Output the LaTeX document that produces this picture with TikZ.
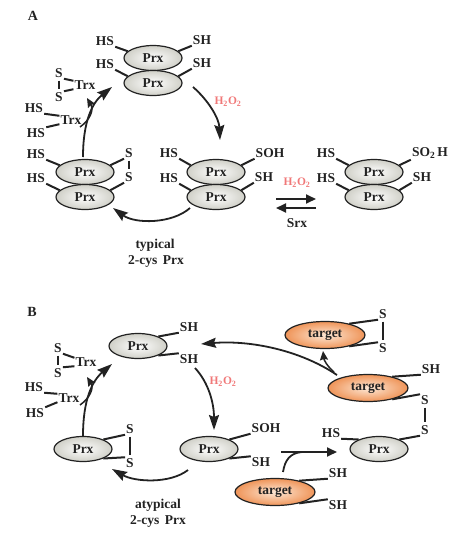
\documentclass[tikz,border=0pt]{standalone}
\usepackage{fontspec}
\setmainfont{Liberation Serif}
\usetikzlibrary{shapes.geometric,arrows.meta}
\definecolor{prxout}{HTML}{D0D0C8}
\definecolor{tgtin}{HTML}{FDE8D6}
\definecolor{tgtout}{HTML}{EF9458}
\definecolor{hcol}{HTML}{F07878}
\definecolor{ink}{HTML}{222222}
\begin{document}
\begin{tikzpicture}[x=1pt,y=-1pt,
 base/.style={font=\fontsize{13.5}{15}\selectfont\bfseries, text=ink},
 prx/.style={base, ellipse, draw=ink, line width=1.2pt, minimum width=58pt, minimum height=25pt, inner sep=0pt, inner color=white, outer color=prxout},
 tgt/.style={base, ellipse, draw=ink, line width=1.2pt, minimum width=80pt, minimum height=27pt, inner sep=0pt, inner color=tgtin, outer color=tgtout},
 lbl/.style={base, inner sep=1pt},
 hh/.style={font=\fontsize{11.5}{12}\selectfont\bfseries, text=hcol, inner sep=1pt},
 bond/.style={line width=2pt, ink},
 ssbar/.style={line width=1.6pt, ink, shorten <=2pt, shorten >=2pt},
 arr/.style={line width=1.8pt, ink, -{Stealth[length=15pt,width=10pt,inset=2pt]}},
 sarr/.style={line width=1.5pt, ink, -{Stealth[length=9pt,width=8pt,inset=1pt]}},
 earr/.style={line width=1.8pt, ink, -{Triangle[length=10pt,width=9pt]}},
]
\useasboundingbox (0,0) rectangle (474,536);

% ================= Panel A =================
\node[lbl, font=\fontsize{14}{15}\selectfont\bfseries] (labA) at (33,16) {A};

% top dimer
\node[prx] (t1) at (153,58) {Prx};
\node[prx] (t2) at (153,83) {Prx};
\node[lbl] (t1hs) at (105,41) {HS};
\node[lbl] (t1sh) at (202,40) {SH};
\node[lbl] (t2hs) at (105,64) {HS};
\node[lbl] (t2sh) at (202,63) {SH};
\draw[bond] (t1hs.south east) -- (t1.165);
\draw[bond] (t2hs.south east) -- (t2.165);
\draw[bond] (t1sh.south west) -- (t1.15);
\draw[bond] (t2sh.south west) -- (t2.15);

% middle-left dimer (disulfide)
\node[prx] (l1) at (85,172) {Prx};
\node[prx] (l2) at (85,197) {Prx};
\node[lbl] (l1hs) at (36,154) {HS};
\node[lbl] (l2hs) at (36,178) {HS};
\node[lbl] (l1s) at (129,153) {S};
\node[lbl] (l2s) at (129,177) {S};
\draw[bond] (l1hs.south east) -- (l1.165);
\draw[bond] (l2hs.south east) -- (l2.165);
\draw[bond] (l1s.south west) -- (l1.15);
\draw[bond] (l2s.south west) -- (l2.15);
\draw[ssbar] (l1s.south) -- (l2s.north);

% middle-right dimer (sulfenic)
\node[prx] (m1) at (216,172) {Prx};
\node[prx] (m2) at (216,197) {Prx};
\node[lbl] (m1hs) at (169,153) {HS};
\node[lbl] (m2hs) at (169,178) {HS};
\node[lbl] (m1soh) at (270,153) {SOH};
\node[lbl] (m2sh) at (264,177) {SH};
\draw[bond] (m1hs.south east) -- (m1.165);
\draw[bond] (m2hs.south east) -- (m2.165);
\draw[bond] (m1soh.south west) -- (m1.15);
\draw[bond] (m2sh.south west) -- (m2.15);

% far-right dimer (sulfinic)
\node[prx] (r1) at (374,172) {Prx};
\node[prx] (r2) at (374,197) {Prx};
\node[lbl] (r1hs) at (326,153) {HS};
\node[lbl] (r2hs) at (326,178) {HS};
\node[lbl] (r1so) at (430,153) {SO\textsubscript{2}\,H};
\node[lbl] (r2sh) at (422,177) {SH};
\draw[bond] (r1hs.south east) -- (r1.165);
\draw[bond] (r2hs.south east) -- (r2.165);
\draw[bond] (r1so.south west) -- (r1.15);
\draw[bond] (r2sh.south west) -- (r2.15);

% equilibrium
\coordinate (eqa) at (276,199);
\coordinate (eqb) at (316,199);
\coordinate (eqc) at (316,208);
\coordinate (eqd) at (276,208);
\draw[earr] (eqa) -- (eqb);
\draw[earr] (eqc) -- (eqd);
\node[hh] (hA2) at (297,183) {H\textsubscript{2}O\textsubscript{2}};
\node[lbl] (srx) at (297,223) {Srx};

% Trx (A)
\node[lbl] (tas1) at (59,73) {S};
\node[lbl] (tas2) at (59,97) {S};
\node[lbl] (tatrx) at (85,85) {Trx};
\draw[bond] (tas1.south east) -- (tatrx.160);
\draw[bond] (tas2.north east) -- (tatrx.200);
\draw[ssbar] (tas1.south) -- (tas2.north);
\node[lbl] (tah1) at (34,108) {HS};
\node[lbl] (tah2) at (36,133) {HS};
\node[lbl] (tatrx2) at (71,120) {Trx};
\draw[bond] (tah1.south east) -- (tatrx2.160);
\draw[bond] (tah2.north east) -- (tatrx2.200);

% arrows (A)
\node[hh] (hA1) at (228,102) {H\textsubscript{2}O\textsubscript{2}};
\coordinate (a1s) at (193,87);
\coordinate (a1e) at (220,140);
\draw[arr] (a1s) .. controls (208,100) and (219,118) .. (a1e);
\coordinate (a2s) at (190,208);
\coordinate (a2e) at (113,208);
\draw[arr] (a2s) .. controls (172,224) and (135,224) .. (a2e);
\coordinate (a3s) at (83,157);
\coordinate (a3e) at (112,87);
\draw[arr] (a3s) .. controls (83,122) and (92,103) .. (a3e);
\coordinate (a4s) at (80,127);
\coordinate (a4e) at (87,98);
\draw[sarr] (a4s) .. controls (90,120) and (94,110) .. (a4e);

\node[lbl] (typ1) at (155,245) {typical};
\node[lbl] (typ2) at (156,261) {2-cys\, Prx};

% ================= Panel B =================
\node[lbl, font=\fontsize{14}{15}\selectfont\bfseries] (labB) at (32,312) {B};

% top Prx
\node[prx] (bp1) at (138,346) {Prx};
\node[lbl] (bp1a) at (189,327) {SH};
\node[lbl] (bp1b) at (189,359) {SH};
\draw[bond] (bp1a.south west) -- (bp1.25);
\draw[bond] (bp1b.north west) -- (bp1.-25);

% Trx (B)
\node[lbl] (tbs1) at (58,348) {S};
\node[lbl] (tbs2) at (58,373) {S};
\node[lbl] (tbtrx) at (86,362) {Trx};
\draw[bond] (tbs1.south east) -- (tbtrx.160);
\draw[bond] (tbs2.north east) -- (tbtrx.200);
\draw[ssbar] (tbs1.south) -- (tbs2.north);
\node[lbl] (tbh1) at (34,387) {HS};
\node[lbl] (tbh2) at (35,413) {HS};
\node[lbl] (tbtrx2) at (69,398) {Trx};
\draw[bond] (tbh1.south east) -- (tbtrx2.160);
\draw[bond] (tbh2.north east) -- (tbtrx2.200);

% left Prx (disulfide)
\node[prx] (bp2) at (83,449) {Prx};
\node[lbl] (bp2a) at (130,429) {S};
\node[lbl] (bp2b) at (130,463) {S};
\draw[bond] (bp2a.south west) -- (bp2.25);
\draw[bond] (bp2b.north west) -- (bp2.-25);
\draw[ssbar] (bp2a.south) -- (bp2b.north);

% middle Prx (sulfenic)
\node[prx] (bp3) at (209,449) {Prx};
\node[lbl] (bp3a) at (266,428) {SOH};
\node[lbl] (bp3b) at (261,462) {SH};
\draw[bond] (bp3a.south west) -- (bp3.25);
\draw[bond] (bp3b.north west) -- (bp3.-25);

% target bottom
\node[tgt] (tg1) at (275,492) {target};
\node[lbl] (tg1a) at (338,473) {SH};
\node[lbl] (tg1b) at (338,505) {SH};
\draw[bond] (tg1a.south west) -- (tg1.25);
\draw[bond] (tg1b.north west) -- (tg1.-25);

% right Prx (mixed disulfide)
\node[prx] (bp4) at (379,449) {Prx};
\node[lbl] (bp4a) at (331,433) {HS};
\node[lbl] (bp4b) at (425,430) {S};
\draw[bond] (bp4a.south east) -- (bp4.155);
\draw[bond] (bp4b.south west) -- (bp4.25);

% target middle
\node[tgt] (tg2) at (368,388) {target};
\node[lbl] (tg2a) at (431,369) {SH};
\node[lbl] (tg2b) at (425,400) {S};
\draw[bond] (tg2a.south west) -- (tg2.25);
\draw[bond] (tg2b.north west) -- (tg2.-25);
\draw[ssbar] (tg2b.south) -- (bp4b.north);

% target top
\node[tgt] (tg3) at (325,335) {target};
\node[lbl] (tg3a) at (383,314) {S};
\node[lbl] (tg3b) at (383,348) {S};
\draw[bond] (tg3a.south west) -- (tg3.25);
\draw[bond] (tg3b.north west) -- (tg3.-25);
\draw[ssbar] (tg3a.south) -- (tg3b.north);

% arrows (B)
\node[hh] (hB1) at (223,382) {H\textsubscript{2}O\textsubscript{2}};
\coordinate (b1s) at (195,368);
\coordinate (b1e) at (214,430);
\draw[arr] (b1s) .. controls (208,382) and (214,402) .. (b1e);
\coordinate (b2s) at (188,470);
\coordinate (b2e) at (112,469);
\draw[arr] (b2s) .. controls (170,484) and (135,482) .. (b2e);
\coordinate (b3s) at (83,436);
\coordinate (b3e) at (112,364);
\draw[arr] (b3s) .. controls (83,400) and (92,381) .. (b3e);
\coordinate (b4s) at (80,405);
\coordinate (b4e) at (87,377);
\draw[sarr] (b4s) .. controls (90,398) and (94,388) .. (b4e);

\coordinate (b5s) at (281,452);
\coordinate (b5e) at (337,452);
\draw[earr] (b5s) -- (b5e);
\coordinate (b6s) at (283,472);
\coordinate (b6e) at (302,452);
\draw[line width=1.8pt, ink] (b6s) .. controls (285,460) and (290,453) .. (b6e);

\coordinate (b7s) at (337,375);
\coordinate (b7e) at (201,344);
\draw[arr] (b7s) .. controls (300,350) and (250,340) .. (b7e);
\coordinate (b8s) at (334,372);
\coordinate (b8e) at (323,351);
\draw[sarr] (b8s) .. controls (327,366) and (324,360) .. (b8e);

\node[lbl] (atyp1) at (158,505) {atypical};
\node[lbl] (atyp2) at (158,521) {2-cys\, Prx};
\end{tikzpicture}
\end{document}
